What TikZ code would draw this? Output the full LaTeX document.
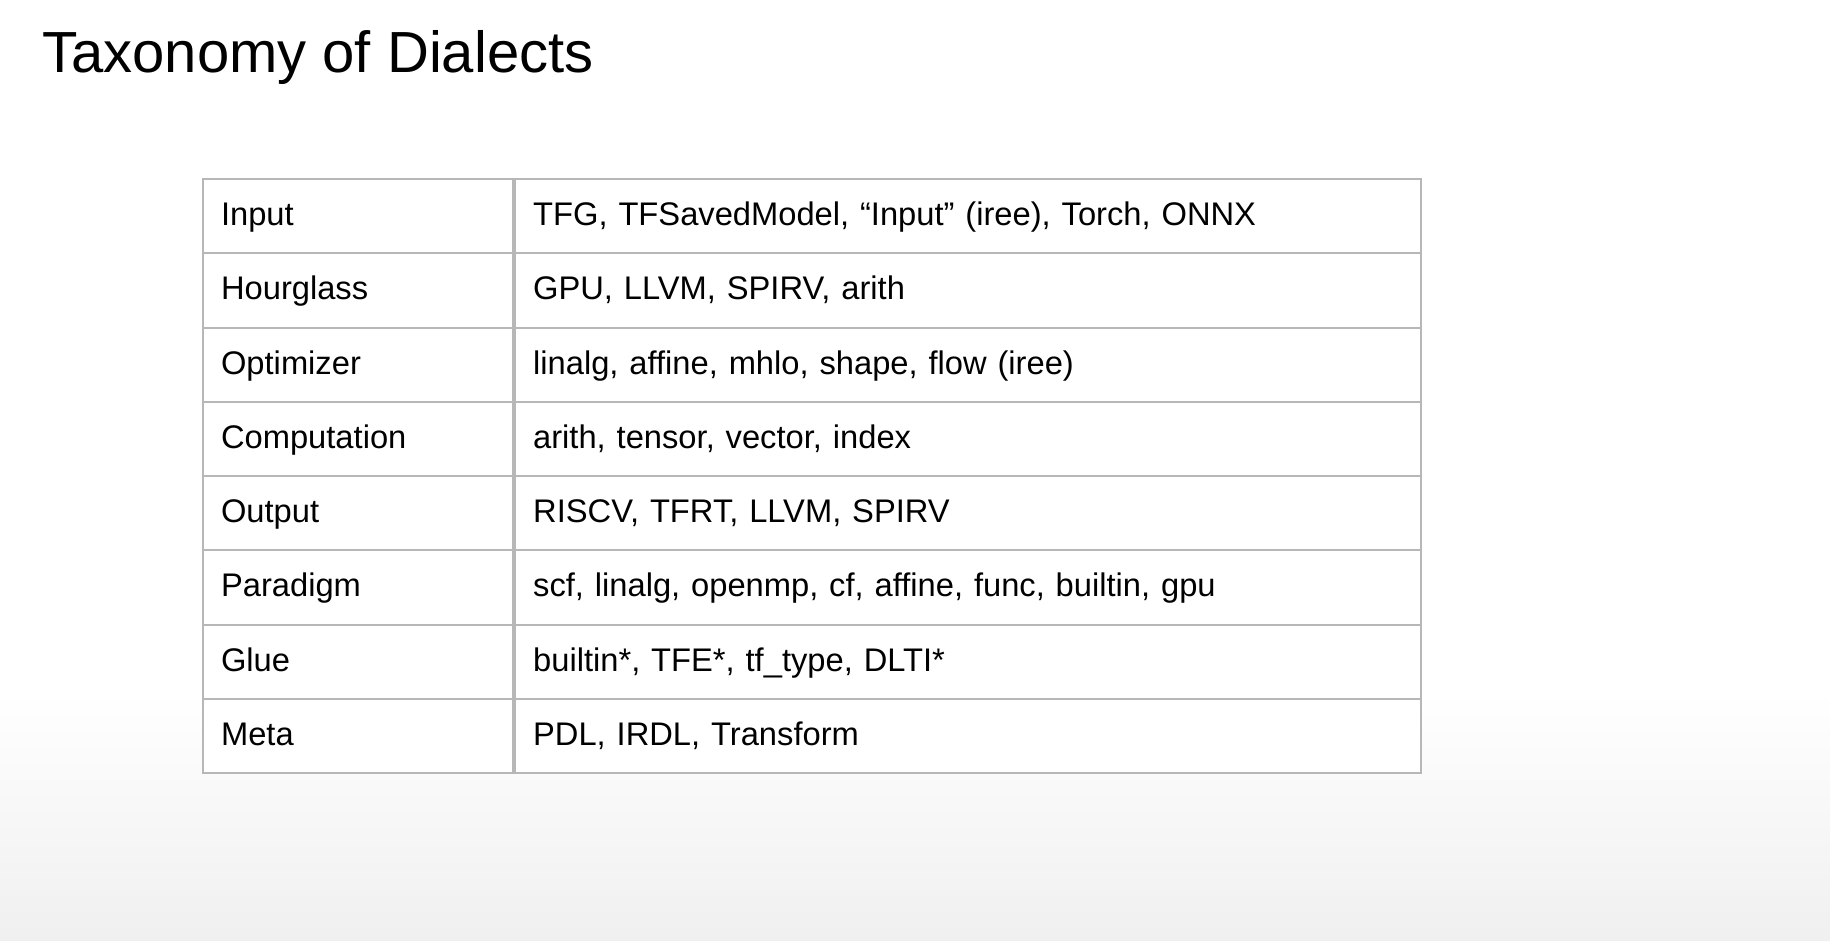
\documentclass[tikz,border=0pt]{standalone}
\usepackage{fontspec}
\setmainfont{Liberation Sans}
\usetikzlibrary{positioning}
\definecolor{gridgray}{HTML}{B7B7B7}
\begin{document}
\begin{tikzpicture}[node distance=0cm]
  \tikzstyle{cell}=[draw=gridgray, line width=0.6pt, rectangle, minimum height=0.7425cm, inner xsep=0.18cm, inner ysep=0pt, text height=0.75em, text depth=0.22em, anchor=north west, align=left, font=\fontsize{9.3}{10}\selectfont]
  \tikzstyle{lab}=[cell, text width=2.74cm]
  \tikzstyle{val}=[cell, text width=8.70cm]

  \useasboundingbox[fill=white] (0,0) rectangle (18.30,-9.40);
  \shade[top color=white, bottom color=black!6] (0,-6.9) rectangle (18.30,-9.40);

  \node[anchor=west, font=\fontsize{16.5}{20}\selectfont] (title) at (0.30,-0.57) {Taxonomy of Dialects};

  \foreach \i/\l/\v in {
      1/Input/{TFG, TFSavedModel, “Input” (iree), Torch, ONNX},
      2/Hourglass/{GPU, LLVM, SPIRV, arith},
      3/Optimizer/{linalg, affine, mhlo, shape, flow (iree)},
      4/Computation/{arith, tensor, vector, index},
      5/Output/{RISCV, TFRT, LLVM, SPIRV},
      6/Paradigm/{scf, linalg, openmp, cf, affine, func, builtin, gpu},
      7/Glue/{builtin*, TFE*, tf\_type, DLTI*},
      8/Meta/{PDL, IRDL, Transform}} {
    \node[lab, fill=white] (lab\i) at (2.02,{-1.78-0.7425*(\i-1)}) {\l};
    \node[val, fill=white, right=of lab\i.north east, anchor=north west] (val\i) {\v};
  }
\end{tikzpicture}
\end{document}
